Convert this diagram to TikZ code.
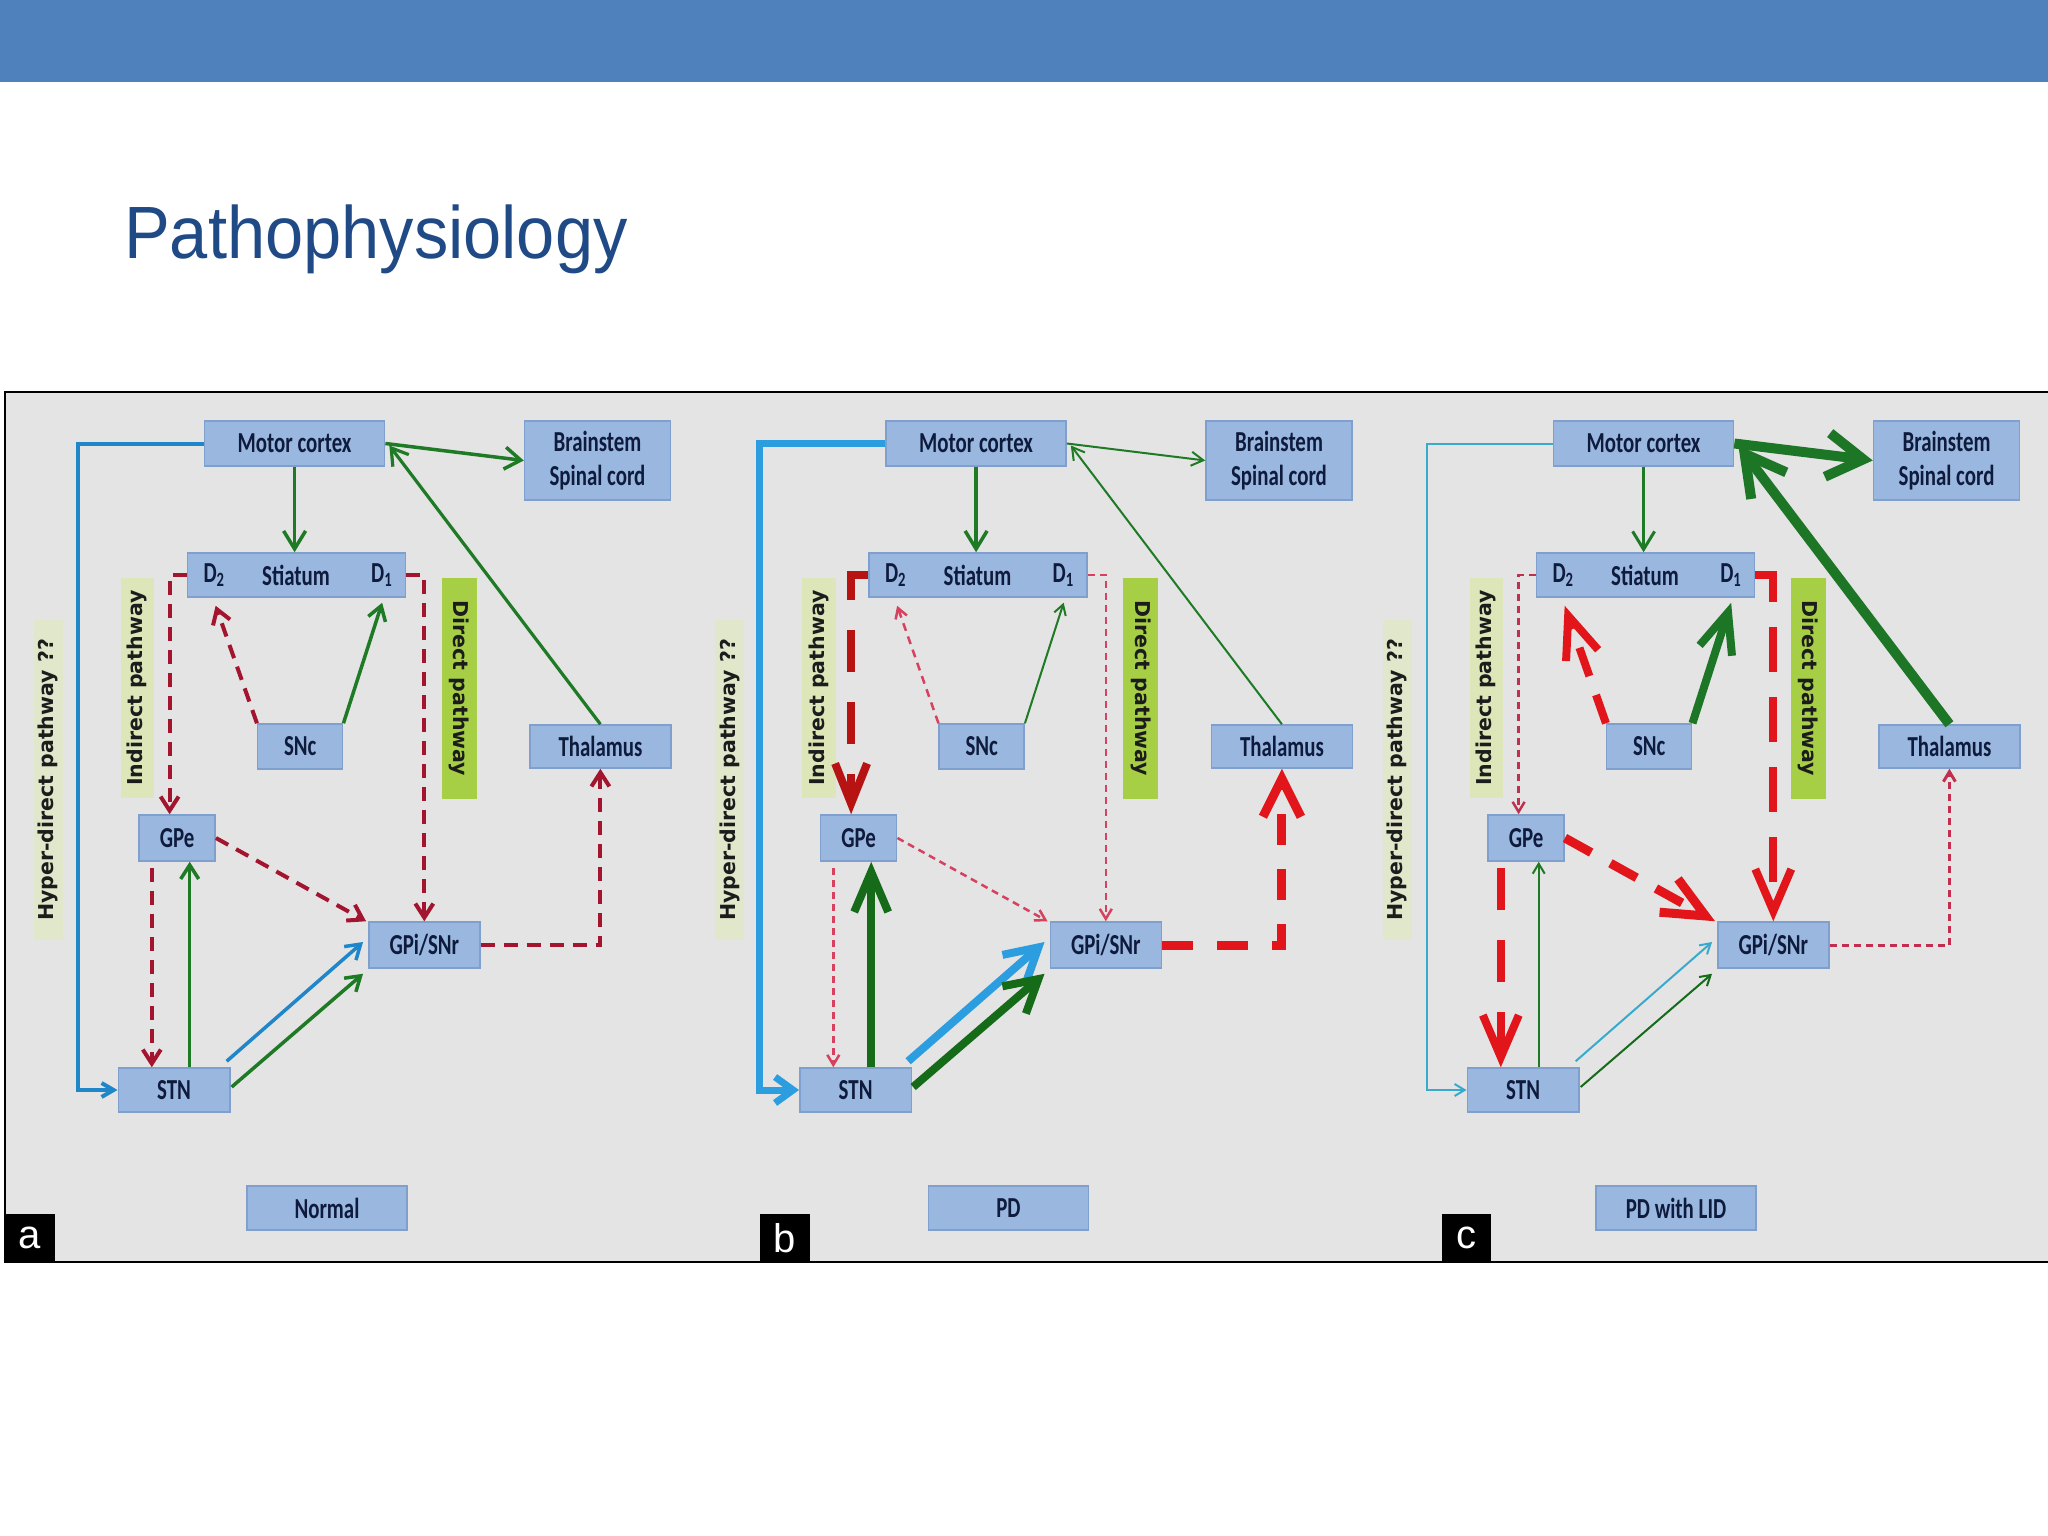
\documentclass[tikz,border=0pt]{standalone}
\usepackage{fontspec}
\setmainfont{Liberation Sans}
\newfontfamily\carl{Carlito}
\newfontfamily\dvs{DejaVu Sans}
\usetikzlibrary{arrows.meta,calc}

\definecolor{barblue}{HTML}{4F81BD}
\definecolor{titleblue}{HTML}{1F4A86}
\definecolor{pbg}{HTML}{E4E4E4}
\definecolor{boxfill}{HTML}{9AB7DF}
\definecolor{boxdraw}{HTML}{7F9FCC}
\definecolor{navy}{HTML}{0E1B3D}
\definecolor{labind}{HTML}{DCE6B9}
\definecolor{labdir}{HTML}{A6CF45}
\definecolor{labhyp}{HTML}{E1E7CB}
\definecolor{labtext}{HTML}{1C1C1C}
\definecolor{reda}{HTML}{A3152E}
\definecolor{greena}{HTML}{1F7A25}
\definecolor{bluea}{HTML}{1E86C9}
\definecolor{redb}{HTML}{B71313}
\definecolor{redbright}{HTML}{E2161A}
\definecolor{pinkred}{HTML}{D5415F}
\definecolor{greendk}{HTML}{166B19}
\definecolor{blueb}{HTML}{2C9EE0}
\definecolor{greenc}{HTML}{1D7526}
\definecolor{bluec}{HTML}{38AACD}
\definecolor{reddot}{HTML}{C0304E}

\newcommand\sq[1]{\scalebox{0.72}[1]{#1}}

\newcommand\panel[2]{%
 \node[lab, rotate=90, fill=labhyp, minimum width=320, minimum height=29] (#1hyp) at (48,780) {Hyper-direct pathway ??};
 \node[lab, rotate=90, fill=labind, minimum width=220, minimum height=33.5] (#1ind) at (137.3,688) {Indirect pathway};
 \node[lab, rotate=-90, fill=labdir, minimum width=221, minimum height=35] (#1dir) at (459.4,688.5) {Direct pathway};
 \node[box, minimum width=180, minimum height=45] (#1mc) at (294.6,443.5) {\sq{Motor cortex}};
 \node[box, minimum width=146, minimum height=79] (#1bs) at (597.5,460.5) {\sq{Brainstem}\\\sq{Spinal cord}};
 \node[box, minimum width=218, minimum height=44] (#1str) at (296.4,575) {};
 \node[btext] (#1dtwo) at (214,575) {\sq{D\textsubscript{2}}};
 \node[btext] (#1stt) at (296,575) {\sq{Stiatum}};
 \node[btext] (#1done) at (381.7,575) {\sq{D\textsubscript{1}}};
 \node[box, minimum width=85, minimum height=45] (#1snc) at (300.2,746.5) {\sq{SNc}};
 \node[box, minimum width=141, minimum height=43] (#1thal) at (600.4,746.5) {\sq{Thalamus}};
 \node[box, minimum width=76, minimum height=46] (#1gpe) at (177.2,838) {\sq{GPe}};
 \node[box, minimum width=111.6, minimum height=44] (#1stn) at (174.1,1090) {\sq{STN}};
 \node[box, minimum width=111, minimum height=46] (#1gpi) at (424.3,945) {\sq{GPi/SNr}};
 \node[box, minimum width=160, minimum height=44] (#1cond) at (327,1208) {\sq{#2}};
 \draw[ehyper] (#1mc.west) -- ($(#1mc.west)+(-126.3,0)$) |- (#1stn.west);
 \draw[emcstr] (#1mc.south) -- (#1mc.south |- #1str.north);
 \draw[emcbs] (#1mc.east) -- (#1bs.west);
 \draw[ethalmc] (#1thal.north) -- ($(#1mc.east)+(4,2)$);
 \draw[ed2gpe] (#1str.west) -| ($(#1gpe.north)+(-7.6,0)$);
 \draw[ed1gpi] (#1str.east) -| (#1gpi.north);
 \draw[esncdtwo] (#1snc.north west) -- ($(#1str.south west)+(29,8)$);
 \draw[esncdone] (#1snc.north east) -- ($(#1str.south east)+(-24,5)$);
 \draw[egpegpi] (#1gpe.east) -- ($(#1gpi.north west)+(-2,0)$);
 \coordinate (#1gs) at ($(#1gpe.south)+(-25.4,6)$);
 \draw[egpestn] (#1gs) -- (#1gs |- #1stn.north);
 \coordinate (#1sg) at ($(#1stn.north)+(15.6,0)$);
 \draw[estngpe] (#1sg) -- (#1sg |- #1gpe.south);
 \draw[estngpib] ($(#1stn.north east)+(-4,-6)$) -- ($(#1gpi.west)+(-5,-3)$);
 \draw[estngpig] ($(#1stn.east)+(1,-3)$) -- ($(#1gpi.south west)+(-5,5)$);
 \draw[egpithal] (#1gpi.east) -| (#1thal.south);
}

\begin{document}
\begin{tikzpicture}[x=1pt,y=-1pt,
 box/.style={draw=boxdraw, fill=boxfill, line width=1.5, inner sep=0, text=navy,
   font=\carl\bfseries\fontsize{29}{34}\selectfont, align=center},
 btext/.style={inner sep=0, text=navy, font=\carl\bfseries\fontsize{29}{34}\selectfont},
 lab/.style={inner sep=0, text=labtext, font=\dvs\bfseries\fontsize{20.5}{22}\selectfont},
 tip/.style 2 args={-{Straight Barb[length=#1,width=#2]}},
 letterbox/.style={fill=black, text=white, inner sep=0, minimum height=48, font=\fontsize{40}{40}\selectfont}
]
\useasboundingbox (0,0) rectangle (2048,1536);
\fill[white] (0,0) rectangle (2048,1536);
\fill[barblue] (0,0) rectangle (2048,82);
\node[anchor=base west, inner sep=0, text=titleblue, font=\fontsize{68.6}{80}\selectfont] (title) at (124,258) {\scalebox{1}[1.08]{Pathophysiology}};
\fill[pbg] (5,392) rectangle (2048,1262);
\draw[black, line width=2] (2052,392) -- (5,392) -- (5,1262) -- (2052,1262);

% Panel a: Normal
\begin{scope}[
 emcstr/.style={greena, line width=3.5, tip={18}{22}},
 emcbs/.style={greena, line width=3.5, tip={16}{22}},
 ethalmc/.style={greena, line width=3.2, tip={16}{20}},
 ed2gpe/.style={reda, line width=4, dash pattern=on 14 off 9, tip={14}{18}},
 ed1gpi/.style={reda, line width=4, dash pattern=on 14 off 9, tip={14}{18}},
 esncdtwo/.style={reda, line width=4, dash pattern=on 14 off 9, tip={14}{18}},
 esncdone/.style={greena, line width=3.5, tip={14}{18}},
 egpegpi/.style={reda, line width=4, dash pattern=on 14 off 9, tip={14}{18}},
 egpestn/.style={reda, line width=4, dash pattern=on 14 off 9, tip={14}{18}},
 estngpe/.style={greena, line width=3.5, tip={14}{18}},
 estngpib/.style={bluea, line width=3.5, tip={14}{18}},
 estngpig/.style={greena, line width=3.5, tip={14}{18}},
 egpithal/.style={reda, line width=4, dash pattern=on 14 off 9, tip={14}{18}},
 ehyper/.style={bluea, line width=4, tip={12}{14}}]
 \panel{a}{Normal}
\end{scope}

% Panel b: PD
\begin{scope}[xshift=681.5,
 emcstr/.style={greena, line width=3.5, tip={18}{22}},
 emcbs/.style={greena, line width=2, tip={12}{14}},
 ethalmc/.style={greena, line width=2, tip={12}{14}},
 ed2gpe/.style={redb, line width=8, dash pattern=on 42 off 30, tip={40}{32}},
 ed1gpi/.style={pinkred, line width=2.5, dash pattern=on 7 off 5, tip={10}{12}},
 esncdtwo/.style={pinkred, line width=2.5, dash pattern=on 8 off 6, tip={10}{12}},
 esncdone/.style={greena, line width=2, tip={10}{12}},
 egpegpi/.style={pinkred, line width=2.5, dash pattern=on 7 off 5, tip={10}{12}},
 egpestn/.style={pinkred, line width=2.5, dash pattern=on 7 off 5, tip={10}{12}},
 estngpe/.style={greendk, line width=8, tip={40}{34}},
 estngpib/.style={blueb, line width=8, tip={32}{36}},
 estngpig/.style={greendk, line width=8, tip={32}{36}},
 egpithal/.style={redbright, line width=9, dash pattern=on 31 off 24, tip={38}{38}},
 ehyper/.style={blueb, line width=7, tip={18}{26}}]
 \panel{b}{PD}
\end{scope}

% Panel c: PD with LID
\begin{scope}[xshift=1349,
 emcstr/.style={greena, line width=3, tip={18}{22}},
 emcbs/.style={greenc, line width=10, tip={36}{44}},
 ethalmc/.style={greenc, line width=10, tip={40}{44}},
 ed2gpe/.style={reddot, line width=2.5, dash pattern=on 7 off 5, tip={10}{12}},
 ed1gpi/.style={redbright, line width=8, dash pattern=on 45 off 25, tip={42}{36}},
 esncdtwo/.style={redbright, line width=8, dash pattern=on 30 off 20, tip={42}{34}},
 esncdone/.style={greenc, line width=8, tip={40}{34}},
 egpegpi/.style={redbright, line width=9, dash pattern=on 30 off 22, tip={42}{38}},
 egpestn/.style={redbright, line width=8, dash pattern=on 42 off 30, tip={42}{36}},
 estngpe/.style={greena, line width=2, tip={10}{12}},
 estngpib/.style={bluec, line width=2, tip={10}{12}},
 estngpig/.style={greendk, line width=2, tip={10}{12}},
 egpithal/.style={reddot, line width=3, dash pattern=on 7 off 5, tip={10}{12}},
 ehyper/.style={bluec, line width=2, tip={10}{12}}]
 \panel{c}{PD with LID}
\end{scope}

\node[letterbox, minimum width=49.5] (la) at (29.75,1238) {a};
\node[letterbox, minimum width=50] (lb) at (784.5,1238) {b};
\node[letterbox, minimum width=49] (lc) at (1466.5,1238) {c};
\end{tikzpicture}
\end{document}
